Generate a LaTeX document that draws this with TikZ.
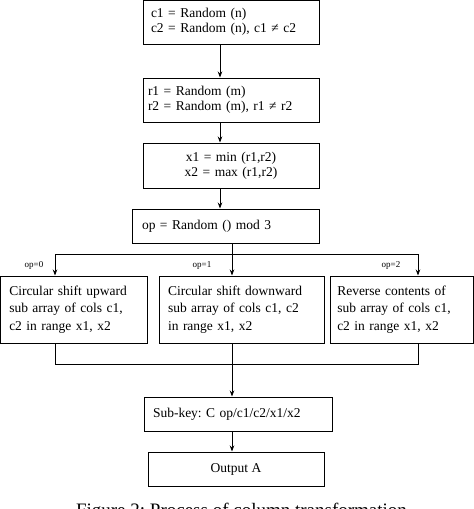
\documentclass[tikz,border=0pt]{standalone}
\usepackage{fontspec}
\setmainfont{Liberation Serif}
\usetikzlibrary{arrows.meta}
\newcommand{\spreadline}[1]{\makebox[\linewidth][s]{#1}}
\frenchspacing

\begin{document}
\begin{tikzpicture}
[
x=1pt, y=-1pt,
every node/.style={inner sep=0pt, font=\fontsize{13.5}{15}\selectfont},
box/.style={draw, line width=1pt, minimum height=#1, anchor=center},
box/.default=44pt,
tall/.style={font=\fontsize{13.5}{17.5}\selectfont},
oplabel/.style={font=\fontsize{9}{10}\selectfont},
arr/.style={-{Stealth[length=6pt,width=4.5pt]}},
line width=0.8pt
]
\useasboundingbox (0,0) rectangle (474,509);

\node (cols) [box, minimum width=176pt, text width=160pt, align=left] at (231,22)
  {c1 = Random (n)\\ c2 = Random (n), c1 ≠ c2};
\node (rows) [box, minimum width=176pt, text width=166pt, align=left] at (231,100)
  {r1 = Random (m)\\ r2 = Random (m), r1 ≠ r2};
\node (range) [box=45pt, minimum width=176pt, text width=166pt, align=center] at (231,165.5)
  {x1 = min (r1,r2)\\ x2 = max (r1,r2)};
\node (op) [box=34pt, minimum width=187pt, text width=167pt, align=left] at (225.5,226)
  {op = Random () mod 3};

\node (up) [box=67pt, tall, minimum width=147pt, text width=130pt, align=left] at (74.25,309.5)
  {\spreadline{Circular shift upward}\\ \spreadline{sub array of cols c1,}\\ c2 in range x1, x2};
\node (down) [box=67pt, tall, minimum width=165pt, text width=147pt, align=left] at (241.5,309.5)
  {\spreadline{Circular shift downward}\\ \spreadline{sub array of cols c1, c2}\\ in range x1, x2};
\node (rev) [box=67pt, tall, minimum width=143pt, text width=129pt, align=left] at (401.75,309.5)
  {Reverse contents of\\ sub array of cols c1,\\ c2 in range x1, x2};

\node (subkey) [box=34pt, minimum width=188pt, text width=170pt, align=left] at (238,414)
  {Sub-key: C op/c1/c2/x1/x2};
\node (out) [box=34pt, minimum width=176pt, align=center] at (236,469)
  {Output A};

\node (caption) [anchor=base, font=\fontsize{19}{22}\selectfont] at (241.5,516.5)
  {Figure 2: Process of column transformation};

\coordinate (spine) at (220,0);
\coordinate (fanL) at (55,254);
\coordinate (fan) at (232,254);
\coordinate (fanR) at (418,254);
\coordinate (joinL) at (55,364);
\coordinate (join) at (232,364);
\coordinate (joinR) at (418,364);

\draw[arr] (cols.south -| spine) -- (rows.north -| spine);
\draw[arr] (rows.south -| spine) -- (range.north -| spine);
\draw[arr] (range.south -| spine) -- (op.north -| spine);

\draw (op.south -| fan) -- (fan);
\draw (fanL) -- (fanR);
\draw[arr] (fanL) -- (up.north -| fanL);
\draw[arr] (fan) -- (down.north -| fan);
\draw[arr] (fanR) -- (rev.north -| fanR);

\node[oplabel] (op0) at (34,265) {op=0};
\node[oplabel] (op1) at (202,265) {op=1};
\node[oplabel] (op2) at (391,265) {op=2};

\draw (up.south -| joinL) -- (joinL) -- (joinR) -- (rev.south -| joinR);
\draw (down.south -| join) -- (join);
\draw[arr] (join) -- (subkey.north -| join);
\draw[arr] (subkey.south -| join) -- (out.north -| join);
\end{tikzpicture}
\end{document}
